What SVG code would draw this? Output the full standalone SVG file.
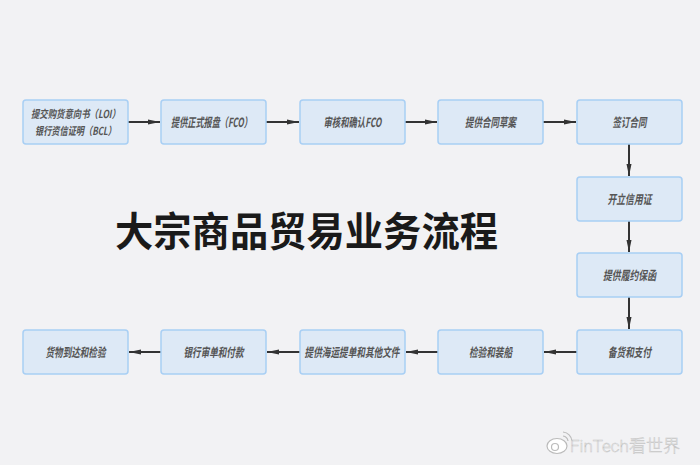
<svg xmlns="http://www.w3.org/2000/svg" width="700" height="465" viewBox="0 0 700 465">
<defs>
<style>
.bx{fill:#dde9f6;stroke:#a8cff4;stroke-width:1.5}
.t{font-family:"Noto Sans CJK SC","Liberation Sans",sans-serif;font-size:12.5px;font-weight:700;fill:#555;text-anchor:middle;font-style:italic}
.s{font-size:11px}
.c{stroke:#333;stroke-width:2;fill:none;marker-end:url(#ah)}
</style>
<marker id="ah" viewBox="0 0 12 6" refX="12" refY="3" markerWidth="12" markerHeight="6" markerUnits="userSpaceOnUse" orient="auto">
<path d="M0,0.5 L12,3 L0,5.5 Z" fill="#333"/>
</marker>
</defs>
<rect width="700" height="465" fill="#f2f2f4"/>
<g id="connectors">
<line class="c" x1="128" y1="122" x2="160" y2="122"/>
<line class="c" x1="266" y1="122" x2="299" y2="122"/>
<line class="c" x1="405" y1="122" x2="437" y2="122"/>
<line class="c" x1="543" y1="122" x2="576" y2="122"/>
<line class="c" x1="629" y1="144" x2="629" y2="176"/>
<line class="c" x1="629" y1="221" x2="629" y2="252"/>
<line class="c" x1="629" y1="297" x2="629" y2="329"/>
<line class="c" x1="577" y1="352" x2="544" y2="352"/>
<line class="c" x1="438" y1="352" x2="406" y2="352"/>
<line class="c" x1="300" y1="352" x2="267" y2="352"/>
<line class="c" x1="161" y1="352" x2="129" y2="352"/>
</g>
<g id="n1"><rect class="bx" x="23" y="100" width="105" height="44" rx="3"/>
<text class="t s" x="75.5" y="117.5" textLength="89" lengthAdjust="spacingAndGlyphs">提交购货意向书（LOI）</text>
<text class="t s" x="75.5" y="134.5" textLength="81" lengthAdjust="spacingAndGlyphs">银行资信证明（BCL）</text></g>
<g id="n2"><rect class="bx" x="161" y="100" width="105" height="44" rx="3"/>
<text class="t" x="211.5" y="126.5" textLength="81" lengthAdjust="spacingAndGlyphs">提供正式报盘（FCO）</text></g>
<g id="n3"><rect class="bx" x="300" y="100" width="105" height="44" rx="3"/>
<text class="t" x="352.5" y="126.5" textLength="58" lengthAdjust="spacingAndGlyphs">审核和确认FCO</text></g>
<g id="n4"><rect class="bx" x="438" y="100" width="105" height="44" rx="3"/>
<text class="t" x="490.5" y="126.5" textLength="51" lengthAdjust="spacingAndGlyphs">提供合同草案</text></g>
<g id="n5"><rect class="bx" x="577" y="100" width="105" height="44" rx="3"/>
<text class="t" x="629.5" y="126.5" textLength="34" lengthAdjust="spacingAndGlyphs">签订合同</text></g>
<g id="n6"><rect class="bx" x="577" y="177" width="105" height="44" rx="3"/>
<text class="t" x="629.5" y="203.5" textLength="44" lengthAdjust="spacingAndGlyphs">开立信用证</text></g>
<g id="n7"><rect class="bx" x="577" y="253" width="105" height="44" rx="3"/>
<text class="t" x="629.5" y="279.5" textLength="53" lengthAdjust="spacingAndGlyphs">提供履约保函</text></g>
<g id="n8"><rect class="bx" x="577" y="330" width="105" height="44" rx="3"/>
<text class="t" x="629.5" y="356.5" textLength="43" lengthAdjust="spacingAndGlyphs">备货和支付</text></g>
<g id="n9"><rect class="bx" x="438" y="330" width="105" height="44" rx="3"/>
<text class="t" x="490.5" y="356.5" textLength="43" lengthAdjust="spacingAndGlyphs">检验和装船</text></g>
<g id="n10"><rect class="bx" x="300" y="330" width="105" height="44" rx="3"/>
<text class="t" x="352" y="356.5" textLength="95" lengthAdjust="spacingAndGlyphs">提供海运提单和其他文件</text></g>
<g id="n11"><rect class="bx" x="161" y="330" width="105" height="44" rx="3"/>
<text class="t" x="213.5" y="356.5" textLength="60" lengthAdjust="spacingAndGlyphs">银行审单和付款</text></g>
<g id="n12"><rect class="bx" x="23" y="330" width="105" height="44" rx="3"/>
<text class="t" x="75.5" y="356.5" textLength="60" lengthAdjust="spacingAndGlyphs">货物到达和检验</text></g>
<text x="306.5" y="246" font-family="Noto Sans CJK SC, sans-serif" font-size="40" font-weight="700" fill="#1a1a1a" text-anchor="middle" textLength="383" lengthAdjust="spacingAndGlyphs">大宗商品贸易业务流程</text>
<g id="watermark">
<ellipse cx="557" cy="446" rx="10" ry="7.5" fill="#fff" stroke="#bbb" stroke-width="1.2"/>
<circle cx="555" cy="447" r="3.5" fill="none" stroke="#bbb" stroke-width="1.2"/>
<path d="M563,436 a6,6 0 0 1 5,5 M563,432 a10,10 0 0 1 9,9" fill="none" stroke="#bbb" stroke-width="1.2"/>
<text x="570" y="452" font-family="Roboto, 'Noto Sans CJK SC', sans-serif" font-size="17" font-weight="300" fill="#fff" stroke="#c4c4c4" stroke-width="0.5">FinTech看世界</text>
</g>
</svg>
